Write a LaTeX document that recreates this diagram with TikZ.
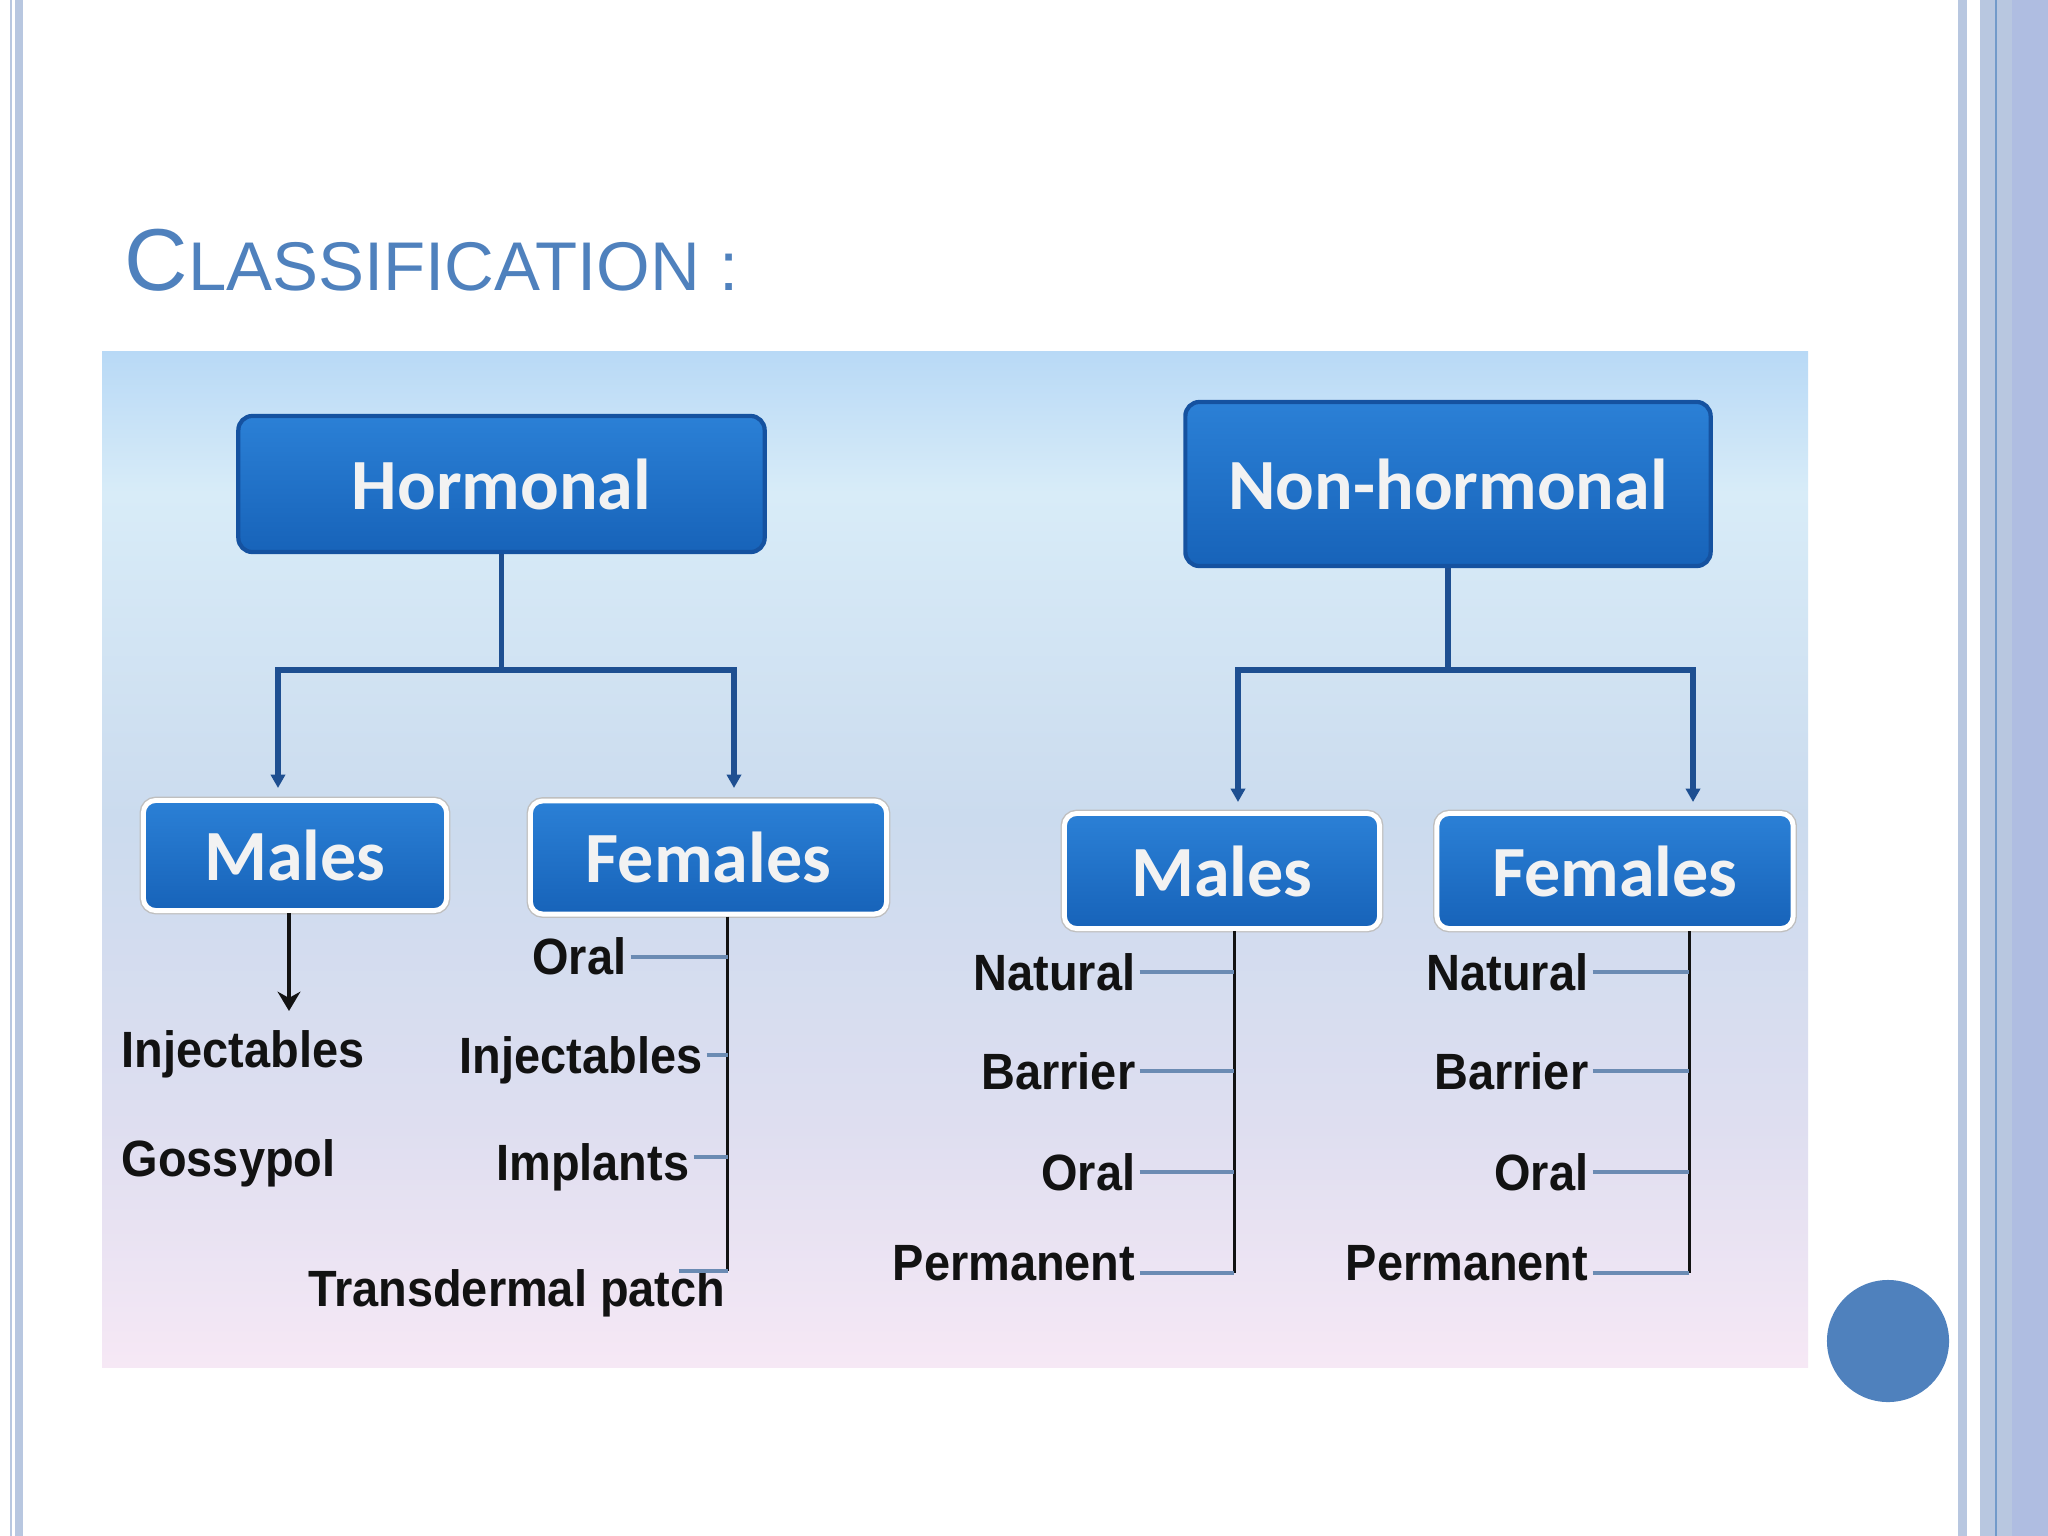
\documentclass[tikz,border=0pt]{standalone}
\usepackage{fontspec}
\setmainfont{Liberation Sans}
\newfontfamily\boxfont{Carlito}
\newfontfamily\leaffont{Liberation Sans}[FakeStretch=0.92]
\usetikzlibrary{arrows.meta,calc}

\definecolor{titleblue}{HTML}{4F81BD}
\definecolor{framegray}{HTML}{B8C7E0}
\definecolor{boxtop}{HTML}{2B80D6}
\definecolor{boxbot}{HTML}{1763B9}
\definecolor{boxedge}{HTML}{1552A0}
\definecolor{linkblue}{HTML}{1E4F91}
\definecolor{tickblue}{HTML}{6B8BB3}
\definecolor{bgtop}{HTML}{B8D9F6}
\definecolor{bghigh}{HTML}{D8ECF8}
\definecolor{bgmid}{HTML}{CBDBEE}
\definecolor{bglow}{HTML}{DEDEF0}
\definecolor{bgbot}{HTML}{F6E8F5}
% the path is fitted to the 25bp--75bp band of the shading
\pgfdeclareverticalshading{photoshade}{100bp}{color(0bp)=(bgbot); color(25bp)=(bgbot); color(37bp)=(bglow); color(52bp)=(bgmid); color(68bp)=(bghigh); color(75bp)=(bgtop); color(100bp)=(bgtop)}

\tikzset{
  topbox/.style={rounded corners=4pt, top color=boxtop, bottom color=boxbot,
    draw=boxedge, line width=1.2pt, text=white!95!black,
    font=\boxfont\bfseries\fontsize{20.5}{25}\selectfont},
  subbox/.style={topbox, draw=white, line width=1.4pt, rounded corners=3.5pt,
    preaction={draw=black!25, line width=2.2pt}},
  leaf/.style={font=\leaffont\bfseries\fontsize{14.5}{17}\selectfont, text=black!93,
    inner xsep=1pt, inner ysep=0pt},
  stem/.style={draw=linkblue, line width=1.7pt},
  branch/.style={stem, -{Triangle[width=4pt,length=3.8pt]}},
  rail/.style={draw=black!93, line width=0.85pt},
  tick/.style={draw=tickblue, line width=0.9pt},
  pointer/.style={draw=black!93, line width=0.9pt, -{Stealth[width=6.5pt,length=5.5pt]}}
}

\begin{document}
\begin{tikzpicture}[x=0.01cm,y=-0.01cm]
  \useasboundingbox (0,0) rectangle (2048,1536);
  \fill[white] (0,0) rectangle (2048,1536);
  % slide frame
  \fill[framegray] (10,0) rectangle (12,1536);
  \fill[framegray] (15,0) rectangle (23,1536);
  \fill[framegray] (1958,0) rectangle (1967,1536);
  \fill[framegray] (1980,0) rectangle (2012,1536);
  \fill[titleblue!80] (1995,0) rectangle (1997,1536);
  \fill[framegray!95!blue] (2012,0) rectangle (2048,1536);
  \fill[titleblue] (1888,1341) circle[radius=0.61cm];
  \node[anchor=base west, text=titleblue, inner sep=0] (title) at (124,290)
    {\fontsize{25}{30}\selectfont C\fontsize{19.6}{24}\selectfont LASSIFICATION :};
  % picture background
  \fill[shading=photoshade] (102,351) rectangle (1808,1367);

  % main classes
  \node[topbox, minimum width=5.26cm, minimum height=1.36cm] (hormonal) at (501.5,484) {Hormonal};
  \node[topbox, minimum width=5.25cm, minimum height=1.64cm] (nonhormonal) at (1448,484) {Non-hormonal};
  \node[subbox, minimum width=3.03cm, minimum height=1.10cm] (hmales) at (295,855.5) {Males};
  \node[subbox, minimum width=3.56cm, minimum height=1.13cm] (hfemales) at (708.5,857.5) {Females};
  \node[subbox, minimum width=3.15cm, minimum height=1.15cm] (nmales) at (1222,871) {Males};
  \node[subbox, minimum width=3.56cm, minimum height=1.15cm] (nfemales) at (1615,871) {Females};

  % branches
  \coordinate (hsplit) at (501.5,670);
  \coordinate (hml) at (278,788);
  \coordinate (hfl) at (734,788);
  \draw[stem] (hormonal.south) -- (hsplit);
  \draw[branch] (hsplit) -| (hml);
  \draw[branch] (hsplit) -| (hfl);
  \coordinate (nsplit) at (1448,670);
  \coordinate (nml) at (1238,802);
  \coordinate (nfl) at (1693,802);
  \draw[stem] (nonhormonal.south) -- (nsplit);
  \draw[branch] (nsplit) -| (nml);
  \draw[branch] (nsplit) -| (nfl);

  % hormonal, males
  \draw[pointer] ($(hmales.south)+(-6,0)$) -- ++(0,98);
  \node[leaf, anchor=base west] (hminj) at (117.5,1067) {Injectables};
  \node[leaf, anchor=base west] (hmgos) at (117.5,1176) {Gossypol};

  % hormonal, females
  \coordinate (hfrail) at (727.5,1271);
  \draw[rail] (hfrail |- hfemales.south) -- (hfrail);
  \foreach \t/\xt/\yb/\dy [count=\i] in {Oral/630.5/974/-17, Injectables/706.5/1073/-18, Implants/693.5/1180/-23}{
    \node[leaf, anchor=base east] (hf\i) at (\xt,\yb) {\t};
    \draw[tick] ($(hf\i.base east)+(0,\dy)$) coordinate (s) -- (s -| hfrail);
  }
  \node[leaf, anchor=base east] (hftrans) at (729.5,1306) {Transdermal patch};
  \coordinate (hftick) at (679,1271);
  \draw[tick] (hftick) -- (hfrail);

  % non-hormonal, males and females
  \foreach \col/\xt/\xr/\boxn in {nm/1139.5/1234/nmales, nf/1592.5/1689/nfemales}{
    \coordinate (\col rail) at (\xr,1273);
    \draw[rail] (\col rail |- \boxn.south) -- (\col rail);
    \foreach \t/\yb/\dy [count=\i] in {Natural/990/-18, Barrier/1089/-18, Oral/1190/-18, Permanent/1280/-7}{
      \node[leaf, anchor=base east] (\col\i) at (\xt,\yb) {\t};
      \draw[tick] ($(\col\i.base east)+(0,\dy)$) coordinate (s) -- (s -| \col rail);
    }
  }
\end{tikzpicture}
\end{document}
